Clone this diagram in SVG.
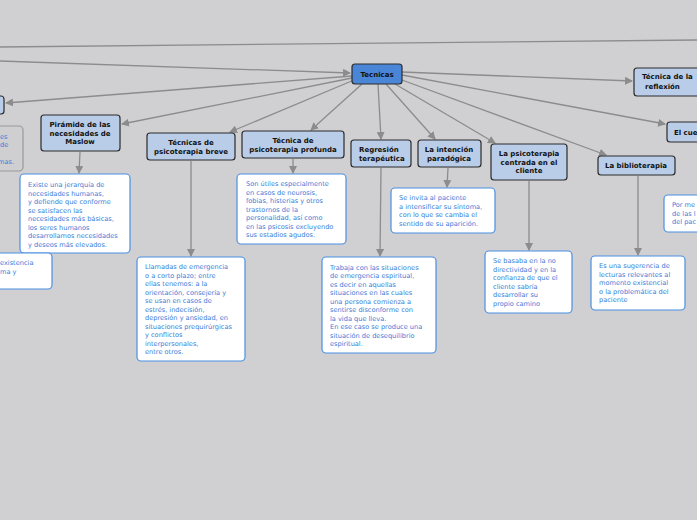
<svg xmlns="http://www.w3.org/2000/svg" width="697" height="520" viewBox="0 0 697 520">
<style>
.n rect{fill:#b9cde8;stroke:#2b2b2b;stroke-width:1.2}
.n text{font-family:"DejaVu Sans",sans-serif;font-size:7px;font-weight:bold;fill:#111;text-anchor:middle}
.t rect{fill:#fff;stroke:#4a90e2;stroke-width:1.2}
.t text{font-family:"DejaVu Sans",sans-serif;font-size:6.6px;fill:#3b7dd8}
.c line{stroke:#8c8c8c;stroke-width:1.3;marker-end:url(#a)}
</style>
<defs><marker id="a" markerWidth="8" markerHeight="8" refX="7" refY="4" orient="auto" markerUnits="userSpaceOnUse"><path d="M0,0 L8,4 L0,8z" fill="#8c8c8c"/></marker></defs>
<rect width="697" height="520" fill="#d0d0d2"/>
<g class="c">
<line x1="0" y1="47" x2="697" y2="40" style="marker-end:none"/>
<line x1="0" y1="61" x2="350" y2="73"/>
<line x1="352" y1="76" x2="6" y2="103"/>
<line x1="352" y1="78" x2="122" y2="124"/>
<line x1="354" y1="80" x2="230" y2="132"/>
<line x1="362" y1="84" x2="311" y2="130"/>
<line x1="378" y1="84" x2="381" y2="139"/>
<line x1="386" y1="84" x2="435" y2="139"/>
<line x1="395" y1="84" x2="495" y2="143"/>
<line x1="402" y1="80" x2="606" y2="155"/>
<line x1="402" y1="75" x2="665" y2="124"/>
<line x1="402" y1="72" x2="632" y2="81"/>
<line x1="80" y1="152" x2="79" y2="173"/>
<line x1="191" y1="161" x2="191" y2="256"/>
<line x1="293" y1="159" x2="293" y2="173"/>
<line x1="381" y1="168" x2="380" y2="256"/>
<line x1="448" y1="168" x2="447" y2="187"/>
<line x1="529" y1="181" x2="529" y2="250"/>
<line x1="638" y1="176" x2="638" y2="255"/>
</g>
<g id="tecnicas" class="n"><rect x="352" y="64" width="50" height="20" rx="3" style="fill:#4a86d8"/><text x="377" y="77">Tecnicas</text></g>
<g id="reflexion" class="n"><rect x="634" y="68" width="75" height="28" rx="3"/><text x="642" y="79" style="text-anchor:start">Técnica de la</text><text x="645" y="89" style="text-anchor:start">reflexión</text></g>
<g id="cuento" class="n"><rect x="667" y="122" width="40" height="20" rx="3"/><text x="674" y="135" style="text-anchor:start">El cue</text></g>
<g id="left" class="n"><rect x="-10" y="96" width="14" height="18" rx="3"/></g>
<g id="maslow" class="n"><rect x="41" y="115" width="79" height="36" rx="3"/><text x="80" y="127">Pirámide de las</text><text x="80" y="135.5">necesidades de</text><text x="80" y="144">Maslow</text></g>
<g id="breve" class="n"><rect x="147" y="133" width="88" height="27" rx="3"/><text x="191" y="145">Técnicas de</text><text x="191" y="154">psicoterapia breve</text></g>
<g id="profunda" class="n"><rect x="242" y="131" width="102" height="27" rx="3"/><text x="293" y="143">Técnica de</text><text x="293" y="152">psicoterapia profunda</text></g>
<g id="regresion" class="n"><rect x="351" y="140" width="60" height="27" rx="3"/><text x="359" y="152" style="text-anchor:start">Regresión</text><text x="359" y="161" style="text-anchor:start">terapéutica</text></g>
<g id="intencion" class="n"><rect x="418" y="140" width="63" height="27" rx="3"/><text x="449" y="152">La intención</text><text x="449" y="161">paradógica</text></g>
<g id="centrada" class="n"><rect x="491" y="144" width="76" height="36" rx="3"/><text x="529" y="156">La psicoterapia</text><text x="529" y="164.5">centrada en el</text><text x="529" y="173">cliente</text></g>
<g id="biblio" class="n"><rect x="598" y="156" width="77" height="19" rx="3"/><text x="636" y="168">La biblioterapia</text></g>
<g id="t-grey" class="t"><rect x="-10" y="126" width="33" height="45" rx="4" style="fill:#cfcfd1;stroke:#999"/><text x="0" y="139">es</text><text x="0" y="147">de</text><text x="-2" y="164">mas.</text></g>
<g id="t-maslow" class="t"><rect x="20" y="174" width="110" height="79" rx="4"/><text x="28" y="187">Existe una jerarquía de</text><text x="28" y="195.5">necesidades humanas,</text><text x="28" y="204">y defiende que conforme</text><text x="28" y="212.5">se satisfacen las</text><text x="28" y="221">necesidades más básicas,</text><text x="28" y="229.5">los seres humanos</text><text x="28" y="238">desarrollamos necesidades</text><text x="28" y="246.5">y deseos más elevados.</text></g>
<g id="t-left" class="t"><rect x="-10" y="253" width="62" height="36" rx="4"/><text x="0" y="265">existencia</text><text x="0" y="274">ma y</text></g>
<g id="t-breve" class="t"><rect x="137" y="257" width="108" height="104" rx="4"/><text x="145" y="269">Llamadas de emergencia</text><text x="145" y="277.5">o a corto plazo; entre</text><text x="145" y="286">ellas tenemos: a la</text><text x="145" y="294.5">orientación, consejería y</text><text x="145" y="303">se usan en casos de</text><text x="145" y="311.5">estrés, indecisión,</text><text x="145" y="320">depresión y ansiedad, en</text><text x="145" y="328.5">situaciones prequirúrgicas</text><text x="145" y="337"> y conflictos</text><text x="145" y="345.5">interpersonales,</text><text x="145" y="354">entre otros.</text></g>
<g id="t-profunda" class="t"><rect x="237" y="174" width="109" height="70" rx="4"/><text x="246" y="186">Son útiles especialmente</text><text x="246" y="194.5">en casos de neurosis,</text><text x="246" y="203">fobias, histerias y otros</text><text x="246" y="211.5">trastornos de la</text><text x="246" y="220">personalidad, así como</text><text x="246" y="228.5">en las psicosis excluyendo</text><text x="246" y="237"> sus estadios agudos.</text></g>
<g id="t-regresion" class="t"><rect x="322" y="257" width="114" height="96" rx="4"/><text x="330" y="269.5">Trabaja con las situaciones</text><text x="330" y="278">de emergencia espiritual,</text><text x="330" y="286.5">es decir en aquellas</text><text x="330" y="295">situaciones en las cuales</text><text x="330" y="303.5">una persona comienza a</text><text x="330" y="312">sentirse disconforme con</text><text x="330" y="320.5">la vida que lleva.</text><text x="330" y="329">En ese caso se produce una</text><text x="330" y="337.5"> situación de desequilibrio</text><text x="330" y="346">espiritual.</text></g>
<g id="t-intencion" class="t"><rect x="391" y="188" width="104" height="45" rx="4"/><text x="399" y="200">Se invita al paciente</text><text x="399" y="208.5">a intensificar su síntoma,</text><text x="399" y="217">con lo que se cambia el</text><text x="399" y="225.5">sentido de su aparición.</text></g>
<g id="t-centrada" class="t"><rect x="485" y="251" width="87" height="62" rx="4"/><text x="493" y="263">Se basaba en la no</text><text x="493" y="271.5">directividad y en la</text><text x="493" y="280">confianza de que el</text><text x="493" y="288.5">cliente sabría</text><text x="493" y="297">desarrollar su</text><text x="493" y="305.5">propio camino</text></g>
<g id="t-biblio" class="t"><rect x="591" y="256" width="94" height="54" rx="4"/><text x="599" y="268">Es una sugerencia de</text><text x="599" y="276.5">lecturas relevantes al</text><text x="599" y="285">momento existencial</text><text x="599" y="293.5">o la problemática del</text><text x="599" y="302">paciente</text></g>
<g id="t-cuento" class="t"><rect x="664" y="195" width="40" height="37" rx="4"/><text x="672" y="207">Por me</text><text x="672" y="215.5">de las l</text><text x="672" y="224">del pac</text></g>
</svg>
